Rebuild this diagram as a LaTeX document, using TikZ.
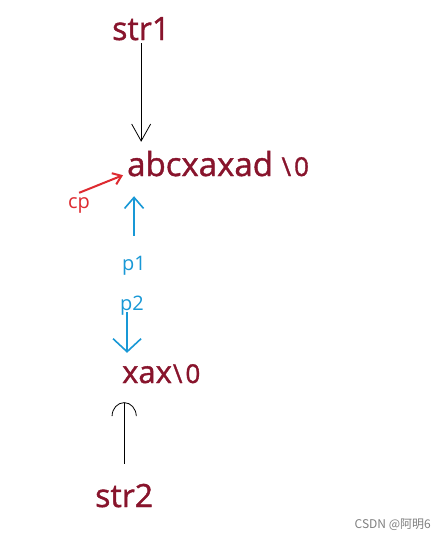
\documentclass[tikz,border=0pt]{standalone}
\usepackage{fontspec}
\setmainfont{Open Sans}
\newfontfamily\cjk{Noto Sans CJK SC}
\newfontfamily\strfont{Open Sans}[FakeBold=1.2]
\usetikzlibrary{arrows.meta}

\definecolor{strred}{RGB}{136,20,44}
\definecolor{cpred}{RGB}{222,42,48}
\definecolor{ptrblue}{RGB}{24,152,214}

\newcommand{\nulchar}{{\fontsize{26}{26}\selectfont\textbackslash\kern3pt 0}}

\tikzset{
    strtext/.style={anchor=base west, inner sep=0pt, text=strred,
        font=\strfont\fontsize{32}{32}\selectfont, text height=22pt, text depth=0pt},
    ptrtext/.style={anchor=base west, inner sep=0pt,
        font=\fontsize{20}{20}\selectfont, text height=15pt, text depth=5pt},
}

\begin{document}
\begin{tikzpicture}[x=1pt,y=-1pt]
    \fill[white] (0,0) rectangle (447,539);
    \useasboundingbox (0,0) rectangle (447,539);

    \node[strtext] (str1) at (112,40) {str1};
    \node[strtext, font=\strfont\fontsize{33}{33}\selectfont] (abc) at (127,176) {abcxaxad \nulchar};
    \node[ptrtext, text=cpred] (cp) at (68,208) {cp};
    \node[ptrtext, text=ptrblue] (p1) at (122,270) {p1};
    \node[ptrtext, text=ptrblue] (p2) at (120,310) {p2};
    \node[strtext, font=\strfont\fontsize{31}{31}\selectfont] (xax) at (122,383) {xax\kern1pt\nulchar};
    \node[strtext] (str2) at (95,507) {str2};

    \node[anchor=base east, inner sep=0pt, text=black!50, font=\cjk\fontsize{12}{12}\selectfont] (mark) at (431,528) {CSDN @阿明6};

    % string pointers
    \draw[line width=0.8pt, -{Straight Barb[length=17pt,width=19pt]}, shorten <=3pt, shorten >=12pt]
        (str1.south) -- (str1.south |- abc.north);
    \draw[line width=0.8pt, -{Arc Barb[length=14pt,width=25pt]}, shorten <=21pt, shorten >=19pt]
        (str2.north) -- (str2.north |- xax.south);

    % cp, p1, p2
    \draw[cpred, line width=2pt, -{Straight Barb[length=8pt,width=12pt]}]
        (cp.north) -- ([shift={(-4,-1)}]abc.south west);
    \draw[ptrblue, line width=1.6pt, -{Straight Barb[length=11pt,width=19pt]}, shorten <=19pt, shorten >=20pt]
        (p1.north) -- (p1.north |- abc.south);
    \draw[ptrblue, line width=1.6pt, -{Straight Barb[length=13pt,width=28pt]}, shorten <=-3pt, shorten >=8pt]
        ([xshift=-5pt]p2.south) -- ([xshift=-5pt]p2.south |- xax.north);
\end{tikzpicture}
\end{document}
